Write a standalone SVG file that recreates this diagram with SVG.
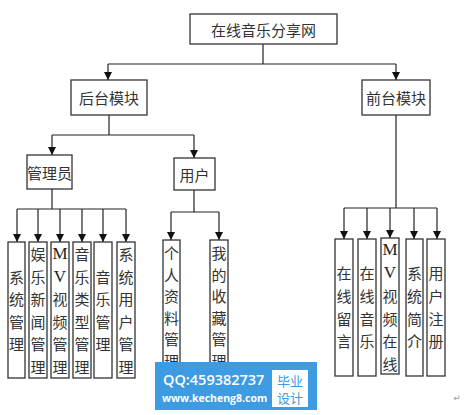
<svg xmlns="http://www.w3.org/2000/svg" width="474" height="415" viewBox="0 0 474 415">
<defs>
<marker id="ah" viewBox="0 0 10 10" refX="10" refY="5" markerWidth="8" markerHeight="8" markerUnits="userSpaceOnUse" orient="auto">
<path d="M0,0 L10,5 L0,10 z" fill="#111"/>
</marker>
<style>
.box{fill:#fff;stroke:#333;stroke-width:1.3}
.t{font-family:"Noto Sans CJK SC","Noto Sans",sans-serif;font-size:15px;fill:#333;text-anchor:middle;dominant-baseline:central}
.v{font-family:"Noto Sans CJK SC","Noto Sans",sans-serif;font-size:15px;fill:#333;text-anchor:middle;dominant-baseline:central}
.lat{font-family:"Liberation Serif",serif;font-size:17px;fill:#222}
.ln{fill:none;stroke:#222;stroke-width:1.2}
.ar{fill:none;stroke:#222;stroke-width:1.2;marker-end:url(#ah)}
</style>
</defs>
<rect width="474" height="415" fill="#fff"/>

<g id="connectors">
<path class="ln" d="M263,44 V64 M108,64 H396"/>
<path class="ar" d="M108,64 V80"/>
<path class="ar" d="M396,64 V80"/>
<path class="ln" d="M109,115 V135 M52,135 H194"/>
<path class="ar" d="M52,135 V155"/>
<path class="ar" d="M194,135 V158"/>
<path class="ln" d="M52,189 V209 M17,209 H126"/>
<path class="ar" d="M17,209 V242"/>
<path class="ar" d="M38,209 V242"/>
<path class="ar" d="M60,209 V242"/>
<path class="ar" d="M82,209 V242"/>
<path class="ar" d="M103,209 V242"/>
<path class="ar" d="M126,209 V242"/>
<path class="ln" d="M194,190 V212 M171,212 H219"/>
<path class="ar" d="M171,212 V240"/>
<path class="ar" d="M219,212 V240"/>
<path class="ln" d="M396,115 V208 M344,208 H437"/>
<path class="ar" d="M344,208 V239"/>
<path class="ar" d="M367,208 V239"/>
<path class="ar" d="M390,208 V238"/>
<path class="ar" d="M414,208 V239"/>
<path class="ar" d="M437,208 V239"/>
</g>

<g id="root"><rect class="box" x="190" y="14" width="147" height="30"/><text class="t" x="263.5" y="29">在线音乐分享网</text></g>
<g id="backend"><rect class="box" x="71" y="80" width="76" height="35"/><text class="t" x="109" y="97.5">后台模块</text></g>
<g id="frontend"><rect class="box" x="362" y="80" width="68" height="35"/><text class="t" x="396" y="97.5">前台模块</text></g>
<g id="admin"><rect class="box" x="27" y="155" width="45" height="34"/><text class="t" x="49.5" y="172">管理员</text></g>
<g id="user"><rect class="box" x="174" y="158" width="41" height="32"/><text class="t" x="194.5" y="174">用户</text></g>

<g id="a1"><rect class="box" x="8" y="242" width="17" height="136"/>
<text class="v"><tspan x="16.5" y="275.5">系</tspan><tspan x="16.5" y="298">统</tspan><tspan x="16.5" y="320.5">管</tspan><tspan x="16.5" y="343">理</tspan></text></g>
<g id="a2"><rect class="box" x="29" y="242" width="18" height="136"/>
<text class="v"><tspan x="38" y="253">娱</tspan><tspan x="38" y="275.5">乐</tspan><tspan x="38" y="298">新</tspan><tspan x="38" y="320.5">闻</tspan><tspan x="38" y="343">管</tspan><tspan x="38" y="365.5">理</tspan></text></g>
<g id="a3"><rect class="box" x="51" y="242" width="18" height="136"/>
<text class="v"><tspan class="lat" x="60" y="253">M</tspan><tspan class="lat" x="60" y="275.5">V</tspan><tspan x="60" y="298">视</tspan><tspan x="60" y="320.5">频</tspan><tspan x="60" y="343">管</tspan><tspan x="60" y="365.5">理</tspan></text></g>
<g id="a4"><rect class="box" x="73" y="242" width="18" height="136"/>
<text class="v"><tspan x="82" y="253">音</tspan><tspan x="82" y="275.5">乐</tspan><tspan x="82" y="298">类</tspan><tspan x="82" y="320.5">型</tspan><tspan x="82" y="343">管</tspan><tspan x="82" y="365.5">理</tspan></text></g>
<g id="a5"><rect class="box" x="94" y="242" width="18" height="136"/>
<text class="v"><tspan x="103" y="275.5">音</tspan><tspan x="103" y="298">乐</tspan><tspan x="103" y="320.5">管</tspan><tspan x="103" y="343">理</tspan></text></g>
<g id="a6"><rect class="box" x="117" y="242" width="18" height="136"/>
<text class="v"><tspan x="126" y="253">系</tspan><tspan x="126" y="275.5">统</tspan><tspan x="126" y="298">用</tspan><tspan x="126" y="320.5">户</tspan><tspan x="126" y="343">管</tspan><tspan x="126" y="365.5">理</tspan></text></g>

<g id="u1"><rect class="box" x="163" y="240" width="17" height="138"/>
<text class="v"><tspan x="171.5" y="252">个</tspan><tspan x="171.5" y="273.5">人</tspan><tspan x="171.5" y="295">资</tspan><tspan x="171.5" y="316.5">料</tspan><tspan x="171.5" y="338">管</tspan><tspan x="171.5" y="359.5">理</tspan></text></g>
<g id="u2"><rect class="box" x="210" y="240" width="18" height="138"/>
<text class="v"><tspan x="219" y="252">我</tspan><tspan x="219" y="273.5">的</tspan><tspan x="219" y="295">收</tspan><tspan x="219" y="316.5">藏</tspan><tspan x="219" y="338">管</tspan><tspan x="219" y="359.5">理</tspan></text></g>

<g id="f1"><rect class="box" x="335" y="239" width="18" height="137"/>
<text class="v"><tspan x="344" y="272">在</tspan><tspan x="344" y="295">线</tspan><tspan x="344" y="317.5">留</tspan><tspan x="344" y="340">言</tspan></text></g>
<g id="f2"><rect class="box" x="358" y="239" width="18" height="137"/>
<text class="v"><tspan x="367" y="272">在</tspan><tspan x="367" y="295">线</tspan><tspan x="367" y="317.5">音</tspan><tspan x="367" y="340">乐</tspan></text></g>
<g id="f3"><rect class="box" x="381" y="238" width="18" height="136"/>
<text class="v"><tspan class="lat" x="390" y="249">M</tspan><tspan class="lat" x="390" y="272">V</tspan><tspan x="390" y="295">视</tspan><tspan x="390" y="317.5">频</tspan><tspan x="390" y="340">在</tspan><tspan x="390" y="362.5">线</tspan></text></g>
<g id="f4"><rect class="box" x="406" y="239" width="17" height="137"/>
<text class="v"><tspan x="414.5" y="272">系</tspan><tspan x="414.5" y="295">统</tspan><tspan x="414.5" y="317.5">简</tspan><tspan x="414.5" y="340">介</tspan></text></g>
<g id="f5"><rect class="box" x="427" y="239" width="18" height="137"/>
<text class="v"><tspan x="436" y="272">用</tspan><tspan x="436" y="295">户</tspan><tspan x="436" y="317.5">注</tspan><tspan x="436" y="340">册</tspan></text></g>

<text x="457" y="401" font-family="DejaVu Sans,sans-serif" font-size="9" fill="#999" text-anchor="middle">↵</text>

<g id="watermark">
<rect x="155" y="362" width="162" height="48" fill="#3d9be2"/>
<text x="163" y="385" font-family="Open Sans,Liberation Sans,sans-serif" font-size="14.5" font-weight="600" fill="#fff">QQ:459382737</text>
<text x="162" y="402" font-family="Open Sans,Liberation Sans,sans-serif" font-size="10.5" font-weight="700" fill="#fff">www.kecheng8.com</text>
<rect x="272" y="370" width="36" height="37" fill="#fff"/>
<text x="290" y="380" font-family="Noto Sans CJK SC,sans-serif" font-size="13" fill="#3d9be2" text-anchor="middle" dominant-baseline="central">毕业</text>
<text x="290" y="397.5" font-family="Noto Sans CJK SC,sans-serif" font-size="13" fill="#3d9be2" text-anchor="middle" dominant-baseline="central">设计</text>
</g>
</svg>
